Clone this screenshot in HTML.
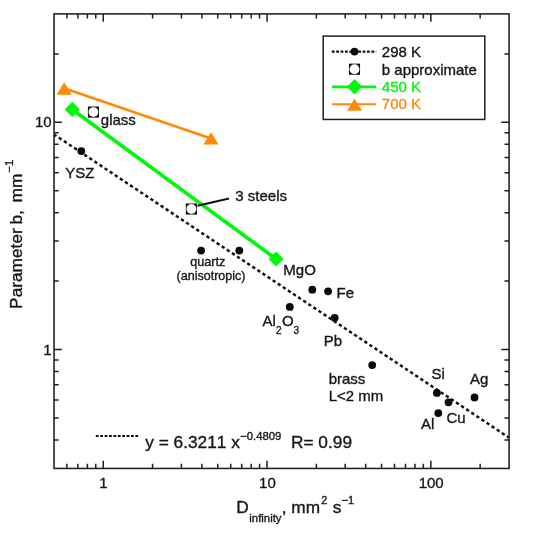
<!DOCTYPE html><html><head><meta charset="utf-8"><title>Parameter b vs D infinity</title>
<style>html,body{margin:0;padding:0;background:#fff}svg{display:block}text{font-family:"Liberation Sans",Arial,sans-serif;fill:#161616;stroke:#161616;stroke-width:0.35px;font-kerning:none}</style></head><body>
<svg width="549" height="550" viewBox="0 0 549 550">
<rect width="549" height="550" fill="#fff"/>
<path d="M66.91 468.45v-4.60M66.91 13.90v4.60M77.88 468.45v-4.60M77.88 13.90v4.60M87.38 468.45v-4.60M87.38 13.90v4.60M95.75 468.45v-4.60M95.75 13.90v4.60M103.25 468.45v-7.80M103.25 13.90v7.80M152.56 468.45v-4.60M152.56 13.90v4.60M181.40 468.45v-4.60M181.40 13.90v4.60M201.87 468.45v-4.60M201.87 13.90v4.60M217.74 468.45v-4.60M217.74 13.90v4.60M230.71 468.45v-4.60M230.71 13.90v4.60M241.68 468.45v-4.60M241.68 13.90v4.60M251.18 468.45v-4.60M251.18 13.90v4.60M259.55 468.45v-4.60M259.55 13.90v4.60M267.05 468.45v-7.80M267.05 13.90v7.80M316.36 468.45v-4.60M316.36 13.90v4.60M345.20 468.45v-4.60M345.20 13.90v4.60M365.67 468.45v-4.60M365.67 13.90v4.60M381.54 468.45v-4.60M381.54 13.90v4.60M394.51 468.45v-4.60M394.51 13.90v4.60M405.48 468.45v-4.60M405.48 13.90v4.60M414.98 468.45v-4.60M414.98 13.90v4.60M423.35 468.45v-4.60M423.35 13.90v4.60M430.85 468.45v-7.80M430.85 13.90v7.80M480.16 468.45v-4.60M480.16 13.90v4.60M54.05 439.91h4.60M509.10 439.91h-4.60M54.05 417.89h4.60M509.10 417.89h-4.60M54.05 399.90h4.60M509.10 399.90h-4.60M54.05 384.69h4.60M509.10 384.69h-4.60M54.05 371.52h4.60M509.10 371.52h-4.60M54.05 359.90h4.60M509.10 359.90h-4.60M54.05 349.50h7.80M509.10 349.50h-7.80M54.05 281.11h4.60M509.10 281.11h-4.60M54.05 241.10h4.60M509.10 241.10h-4.60M54.05 212.71h4.60M509.10 212.71h-4.60M54.05 190.69h4.60M509.10 190.69h-4.60M54.05 172.70h4.60M509.10 172.70h-4.60M54.05 157.49h4.60M509.10 157.49h-4.60M54.05 144.32h4.60M509.10 144.32h-4.60M54.05 132.70h4.60M509.10 132.70h-4.60M54.05 122.30h7.80M509.10 122.30h-7.80M54.05 53.91h4.60M509.10 53.91h-4.60" stroke="#1f1f1f" stroke-width="1.5" fill="none"/>
<rect x="54.05" y="13.90" width="455.05" height="454.55" fill="none" stroke="#1f1f1f" stroke-width="1.55"/>
<path d="M54.55 134.80L508.60 437.40" stroke="#111" stroke-width="2.5" stroke-dasharray="3.3 2.82" stroke-dashoffset="1" fill="none"/>
<path d="M64.2 88.3L211 138.4" stroke="#FF8A0A" stroke-width="2.6" fill="none"/>
<path d="M64.20 82.30L71.90 94.70L56.50 94.70Z" fill="#FF8A0A"/>
<path d="M211.00 132.20L218.70 144.60L203.30 144.60Z" fill="#FF8A0A"/>
<path d="M72.3 109.4L276.1 259" stroke="#00F80A" stroke-width="3.7" fill="none"/>
<path d="M72.30 101.80L79.90 109.40L72.30 117.00L64.70 109.40Z" fill="#00F80A"/>
<path d="M276.10 251.40L283.70 259.00L276.10 266.60L268.50 259.00Z" fill="#00F80A"/>
<rect x="87.90" y="106.55" width="11.10" height="11.10" fill="#0a0a0a"/><circle cx="93.45" cy="112.10" r="4.95" fill="#fff"/>
<rect x="185.85" y="203.45" width="11.10" height="11.10" fill="#0a0a0a"/><circle cx="191.40" cy="209.00" r="4.95" fill="#fff"/>
<path d="M197.6 205.8L229 198.5" stroke="#111" stroke-width="2" fill="none"/>
<circle cx="81.3" cy="151.1" r="3.9" fill="#0a0a0a"/>
<circle cx="201.1" cy="250.6" r="3.9" fill="#0a0a0a"/>
<circle cx="239.3" cy="250.6" r="3.9" fill="#0a0a0a"/>
<circle cx="289.8" cy="306.9" r="3.9" fill="#0a0a0a"/>
<circle cx="312.3" cy="289.7" r="3.9" fill="#0a0a0a"/>
<circle cx="328.1" cy="291.3" r="3.9" fill="#0a0a0a"/>
<circle cx="334.7" cy="317.8" r="3.9" fill="#0a0a0a"/>
<circle cx="372.2" cy="365.1" r="3.9" fill="#0a0a0a"/>
<circle cx="436.9" cy="392.9" r="3.9" fill="#0a0a0a"/>
<circle cx="448.5" cy="402.3" r="3.9" fill="#0a0a0a"/>
<circle cx="474.5" cy="397.5" r="3.9" fill="#0a0a0a"/>
<circle cx="438.3" cy="413.1" r="3.9" fill="#0a0a0a"/>
<text x="100.8" y="125.4" font-size="15">glass</text>
<text x="65.3" y="177.8" font-size="15">YSZ</text>
<text x="235.3" y="201.0" font-size="15">3 steels</text>
<text x="207.8" y="265.5" font-size="12.7" text-anchor="middle">quartz</text>
<text x="211.0" y="279.8" font-size="12.5" text-anchor="middle">(anisotropic)</text>
<text x="283.3" y="275.0" font-size="15">MgO</text>
<text x="336.5" y="297.7" font-size="15">Fe</text>
<text x="262.5" y="326" font-size="15">Al<tspan font-size="10" dy="8.1" dx="0.1">2</tspan><tspan dy="-8.1" dx="0.4">O</tspan><tspan font-size="10" dy="8.1" dx="-0.1">3</tspan></text>
<text x="323.8" y="345.6" font-size="15">Pb</text>
<text x="328.7" y="383.7" font-size="15">brass</text>
<text x="328.7" y="401.0" font-size="15">L&lt;2 mm</text>
<text x="431.6" y="378.5" font-size="15">Si</text>
<text x="470.1" y="383.7" font-size="15">Ag</text>
<text x="446.5" y="422.5" font-size="15">Cu</text>
<text x="421.0" y="429.2" font-size="15">Al</text>
<path d="M95.8 436H138.4" stroke="#111" stroke-width="2.2" stroke-dasharray="2.8 1.6" fill="none"/>
<text x="145.2" y="448.4" font-size="17.3">y = 6.3211 x<tspan font-size="11.3" dy="-8.8" dx="0.4">−0.4809</tspan></text>
<text x="291.0" y="448.4" font-size="17.3">R= 0.99</text>
<text x="51.6" y="127.4" font-size="15" text-anchor="end">10</text>
<text x="51.6" y="354.7" font-size="15" text-anchor="end">1</text>
<text x="103.5" y="487.5" font-size="15" text-anchor="middle">1</text>
<text x="267.4" y="487.5" font-size="15" text-anchor="middle">10</text>
<text x="431.2" y="487.5" font-size="15" text-anchor="middle">100</text>
<text x="236.3" y="512.5" font-size="17.3">D<tspan font-size="11.4" dy="9.5" dx="0.5">infinity</tspan><tspan dy="-9.5" dx="0.1">, mm</tspan><tspan font-size="11" dy="-8.9" dx="1.1">2</tspan><tspan dy="8.9" dx="0.7"> s</tspan><tspan font-size="11" dy="-8.9" dx="0.2">−1</tspan></text>
<text transform="translate(21.7 308.9) rotate(-90)" font-size="17.3" style="font-kerning:normal">Parameter <tspan dx="-1.1">b,</tspan><tspan dx="2.8"> mm</tspan><tspan font-size="11.3" dy="-8.6" dx="1">−1</tspan></text>
<rect x="323.2" y="36.1" width="161.6" height="83.35" fill="#fff" stroke="#1f1f1f" stroke-width="1.5"/>
<path d="M331.8 51.6H376.2" stroke="#111" stroke-width="2.2" stroke-dasharray="2.8 1.6" fill="none"/>
<circle cx="354.5" cy="51.6" r="3.9" fill="#0a0a0a"/>
<text x="381.8" y="57.0" font-size="15">298 K</text>
<rect x="348.95" y="63.65" width="11.10" height="11.10" fill="#0a0a0a"/><circle cx="354.50" cy="69.20" r="4.95" fill="#fff"/>
<text x="381.8" y="74.6" font-size="15">b approximate</text>
<path d="M332 86.8H376.2" stroke="#00F80A" stroke-width="2.7" fill="none"/>
<path d="M354.60 79.10L362.30 86.80L354.60 94.50L346.90 86.80Z" fill="#00F80A"/>
<text x="381.8" y="91.6" font-size="15" style="fill:#00F80A;stroke:#00F80A">450 K</text>
<path d="M332.2 104.3H376.2" stroke="#FF8A0A" stroke-width="2.1" fill="none"/>
<path d="M354.60 98.50L362.10 110.80L347.10 110.80Z" fill="#FF8A0A"/>
<text x="381.8" y="109.2" font-size="15" style="fill:#FF8A0A;stroke:#FF8A0A">700 K</text>
</svg></body></html>
